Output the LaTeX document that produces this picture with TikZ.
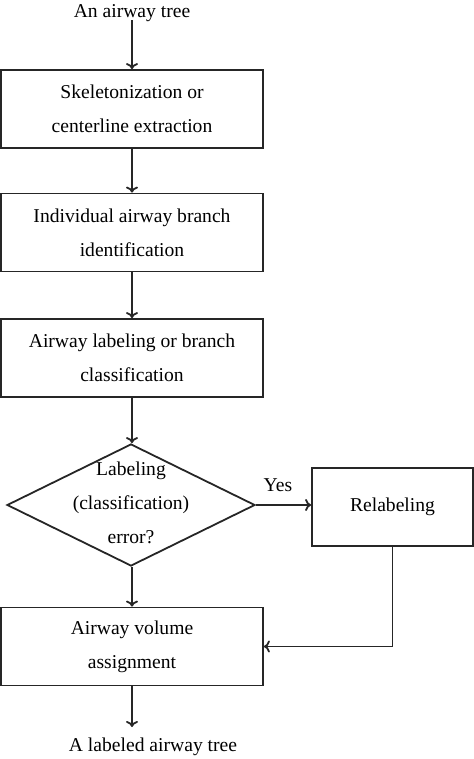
\documentclass[tikz,border=0pt]{standalone}
\usepackage{fontspec}
\setmainfont{Liberation Serif}
\usetikzlibrary{shapes.geometric,arrows.meta}
\begin{document}
\begin{tikzpicture}[x=0.5pt,y=-0.5pt,
  every node/.style={font=\fontsize{9.8pt}{17pt}\selectfont},
  procbox/.style={draw=black!85,line width=0.9pt,rectangle,minimum width=131pt,minimum height=39pt,align=center,inner sep=0pt},
  decbox/.style={draw=black!85,line width=0.9pt,diamond,minimum width=124pt,minimum height=61pt,inner sep=0pt},
  plain/.style={align=center,inner sep=0pt},
  conn/.style={draw=black!85,line width=0.9pt,-{To[length=3pt,width=6pt]}}]
\useasboundingbox (0,0) rectangle (474,759);
\node[plain] (start) at (132,13) {An airway tree};
\node[procbox] (skel) at (132,109) {Skeletonization or\\centerline extraction};
\node[procbox] (ident) at (132,232.5) {Individual airway branch\\identification};
\node[procbox] (label) at (132,358) {Airway labeling or branch\\classification};
\node[decbox] (dec) at (131,505) {};
\node[plain] (dectext) at (131,503) {Labeling\\(classification)\\error?};
\node[procbox,minimum width=80.5pt] (relab) at (392.5,507) {Relabeling};
\node[procbox] (vol) at (132,646.5) {Airway volume\\assignment};
\node[plain] (end) at (153,747) {A labeled airway tree};
\coordinate (corner) at (relab.south |- vol.east);
\draw[conn] (start.south) ++(0,-2) -- (skel.north);
\draw[conn] (skel) -- (ident);
\draw[conn] (ident) -- (label);
\draw[conn] (label.south) -- (label.south |- dec.north);
\draw[conn] (dec.east) -- node[plain,above=6pt,pos=0.4] (yes) {Yes} (dec.east -| relab.west);
\draw[conn] (dec.south -| vol.north) -- (vol.north);
\draw[conn] (relab.south) -- (corner) -- (vol.east);
\coordinate (endtop) at (132,727);
\draw[conn] (vol.south) -- (endtop);
\end{tikzpicture}
\end{document}
